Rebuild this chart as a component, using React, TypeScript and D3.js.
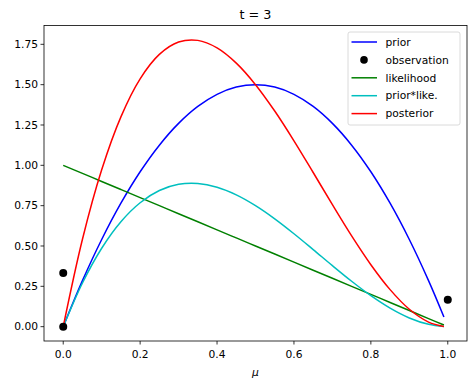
import React from 'react';
import { scaleLinear, line, curveCatmullRom } from 'd3';

const mu = [0, 0.05, 0.1, 0.15, 0.2, 0.25, 0.3, 0.35, 0.4, 0.45, 0.5, 0.55, 0.6, 0.65, 0.7, 0.75, 0.8, 0.85, 0.9, 0.95, 0.99];
const prior = [0, 0.285, 0.54, 0.765, 0.96, 1.125, 1.26, 1.365, 1.44, 1.485, 1.5, 1.485, 1.44, 1.365, 1.26, 1.125, 0.96, 0.765, 0.54, 0.285, 0.0594];
const likelihood = [1, 0.95, 0.9, 0.85, 0.8, 0.75, 0.7, 0.65, 0.6, 0.55, 0.5, 0.45, 0.4, 0.35, 0.3, 0.25, 0.2, 0.15, 0.1, 0.05, 0.01];
const priorLike = [0, 0.2708, 0.486, 0.6503, 0.768, 0.8438, 0.882, 0.8873, 0.864, 0.8168, 0.75, 0.6683, 0.576, 0.4778, 0.378, 0.2813, 0.192, 0.1148, 0.054, 0.0143, 0.0006];
const posterior = [0, 0.5415, 0.972, 1.3005, 1.536, 1.6875, 1.764, 1.7745, 1.728, 1.6335, 1.5, 1.3365, 1.152, 0.9555, 0.756, 0.5625, 0.384, 0.2295, 0.108, 0.0285, 0.0012];

const obsX = [0, 0, 1];
const obsY = [0, 0.333, 0.167];

const xTicks = [0, 0.2, 0.4, 0.6, 0.8, 1.0];
const yTicks = [0, 0.25, 0.5, 0.75, 1.0, 1.25, 1.5, 1.75];

const series = [
  { name: 'prior', values: prior, color: '#0000ff' },
  { name: 'likelihood', values: likelihood, color: '#008000' },
  { name: 'prior*like.', values: priorLike, color: '#00bfbf' },
  { name: 'posterior', values: posterior, color: '#ff0000' },
];

const legendItems = [
  { name: 'prior', color: '#0000ff', kind: 'line' },
  { name: 'observation', color: '#000000', kind: 'dot' },
  { name: 'likelihood', color: '#008000', kind: 'line' },
  { name: 'prior*like.', color: '#00bfbf', kind: 'line' },
  { name: 'posterior', color: '#ff0000', kind: 'line' },
];

const W = 474, H = 387;
const left = 44, right = 467, top = 25.5, bottom = 341;
const font = 'DejaVu Sans, sans-serif';
const fs = 10.7;

export default function App() {
  const x = scaleLinear().domain([-0.05, 1.05]).range([left, right]);
  const y = scaleLinear().domain([-0.0889, 1.8667]).range([bottom, top]);
  const path = (vals: number[]) =>
    line<number>()
      .x((_, i) => x(mu[i]))
      .y((d) => y(d))
      .curve(curveCatmullRom.alpha(0.5))(vals) || '';

  const lx = 348, ly = 32, lw = 112, lh = 93;

  return (
    <svg width={W} height={H} style={{ position: 'absolute', left: 0, top: 0, background: '#fff' }} fontFamily={font}>
      <rect width={W} height={H} fill="#fff" />
      <text x={(left + right) / 2} y={18.5} textAnchor="middle" fontSize={12.8}>t = 3</text>

      {series.map((s) => (
        <path key={s.name} d={path(s.values)} fill="none" stroke={s.color} strokeWidth={1.5} />
      ))}
      {obsX.map((v, i) => (
        <circle key={i} cx={x(v)} cy={y(obsY[i])} r={4} fill="#000" />
      ))}

      <rect x={left} y={top} width={right - left} height={bottom - top} fill="none" stroke="#000" strokeWidth={0.8} />

      {xTicks.map((t) => (
        <g key={t} transform={`translate(${x(t)},${bottom})`}>
          <line y2={3.5} stroke="#000" strokeWidth={0.8} />
          <text y={16.5} textAnchor="middle" fontSize={fs}>{t.toFixed(1)}</text>
        </g>
      ))}
      {yTicks.map((t) => (
        <g key={t} transform={`translate(${left},${y(t)})`}>
          <line x2={-3.5} stroke="#000" strokeWidth={0.8} />
          <text x={-6} dy="0.35em" textAnchor="end" fontSize={fs}>{t.toFixed(2)}</text>
        </g>
      ))}
      <text x={(left + right) / 2} y={376} textAnchor="middle" fontSize={fs} fontStyle="italic">μ</text>

      <rect x={lx} y={ly} width={lw} height={lh} rx={2} fill="#fff" fillOpacity={0.8} stroke="#d0d0d0" strokeWidth={0.8} />
      {legendItems.map((it, i) => {
        const cy = ly + 10 + i * 17.9;
        return (
          <g key={it.name}>
            {it.kind === 'line' ? (
              <line x1={lx + 3.5} x2={lx + 29} y1={cy} y2={cy} stroke={it.color} strokeWidth={1.5} />
            ) : (
              <circle cx={lx + 16} cy={cy} r={3.8} fill={it.color} />
            )}
            <text x={lx + 37.5} y={cy} dy="0.35em" fontSize={fs}>{it.name}</text>
          </g>
        );
      })}
    </svg>
  );
}
